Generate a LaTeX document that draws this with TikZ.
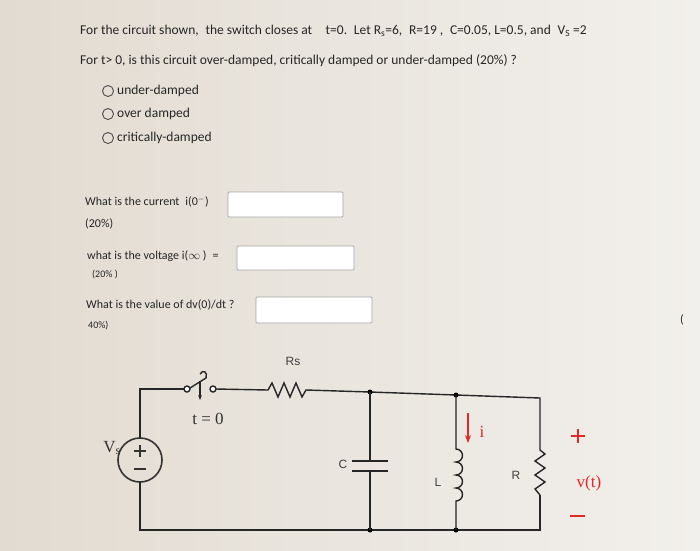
\documentclass[tikz,border=0pt]{standalone}
\usepackage{fontspec}
\setmainfont{Carlito}
\newfontfamily\serfont{Liberation Serif}
\newfontfamily\labfont{Liberation Sans}
\usetikzlibrary{arrows.meta}
\begin{document}
\begin{tikzpicture}[x=1pt,y=-1pt,
  txt/.style={anchor=west,inner sep=0pt,font=\fontsize{13.5}{15}\selectfont,text=black!85},
  sm/.style={anchor=west,inner sep=0pt,font=\fontsize{12}{14}\selectfont,text=black!85},
  ansbox/.style={draw=black!35,fill=white,line width=0.8pt,rounded corners=1pt},
  wire/.style={line width=1.4pt,black!85},
  ser/.style={font=\serfont\fontsize{17}{19}\selectfont,text=black!80},
  lab/.style={font=\labfont\fontsize{12}{14}\selectfont,text=black!75}]
\definecolor{bgl}{RGB}{226,219,209}
\definecolor{bgr}{RGB}{242,240,236}
\definecolor{rd}{RGB}{225,40,40}
\shade[left color=bgl,right color=bgr] (0,0) rectangle (700,550);
\useasboundingbox (0,0) rectangle (700,550);
\node[txt] (q1) at (80,31) {For the circuit shown,\enspace the switch closes at\quad t=0.\enspace Let R$_{\mathrm s}$=6,\enspace R=19 ,\enspace C=0.05, L=0.5, and\enspace V$_{\mathrm S}$ =2};
\node[txt] (q2) at (80,61) {For t> 0, is this circuit over-damped, critically damped or under-damped (20\%) ?};
\foreach \y/\t/\n in {91/under-damped/a,114/over damped/b,138/critically-damped/c}{
  \draw[black!70,line width=0.9pt] (108,\y) circle (5.5);
  \node[txt] (r\n) at (117,\y) {\t};}
\node[sm] (p1) at (85,202) {What is the current\enspace i(0$^{-}$)};
\draw[ansbox] (228,192) rectangle (343,217);
\node[sm] (p1b) at (85,224) {(20\%)};
\node[sm] (p2) at (87,256) {what is the voltage i($\infty$ )\enspace =};
\draw[ansbox] (237,246) rectangle (354,270);
\node[sm,font=\fontsize{10}{12}\selectfont] (p2b) at (92,275) {(20\% )};
\node[sm] (p3) at (86,305) {What is the value of dv(0)/dt ?};
\draw[ansbox] (256,297) rectangle (372,323);
\node[sm,font=\fontsize{10}{12}\selectfont] (p3b) at (88,326) {40\%)};
\node[sm] (par) at (680,320) {(};
% circuit
\coordinate (tl) at (140,389);
\coordinate (bl) at (140,530);
\coordinate (cn) at (370,392);
\coordinate (ln) at (456,395);
\coordinate (rn) at (540,398);
\coordinate (cb) at (370,530);
\coordinate (lb) at (456,530);
\coordinate (rb) at (540,530);
\coordinate (vc) at (140,460);
\coordinate (vt1) at (140,438);
\coordinate (vb1) at (140,482);
\draw[line width=1.6pt,black!80] (vc) circle (22);
\draw[line width=1.8pt,black!80] (134,451) -- (146,451) (140,445) -- (140,457) (134,469) -- (146,469);
\draw[wire] (vt1) -- (tl) -- (184,389);
\draw[wire] (vb1) -- (bl) -- (rb) -- (540,495);
\draw[wire,fill=white] (187,389) circle (3);
\draw[wire,fill=white] (213,389) circle (3);
\draw[wire] (190,388) -- (206,378) .. controls (208,372) and (203,369) .. (200,374);
\draw[wire] (200,381) -- (200,393);
\draw[wire,-{Stealth[length=5pt]}] (200,391) -- (200,400);
\draw[wire] (216,389) -- (268,390) -- (272,383) -- (278,397) -- (284,383) -- (290,397) -- (296,383) -- (302,397) -- (306,390) -- (cn) -- (ln) -- (rn) -- (540,450)
  -- (545,454) -- (535,461) -- (545,468) -- (535,475) -- (545,482) -- (535,489) -- (540,495);
\fill (cn) circle (2.5); \fill (ln) circle (2.5); \fill (cb) circle (2.5); \fill (lb) circle (2.5);
\draw[wire] (cn) -- (370,461); \draw[wire] (370,471) -- (cb);
\draw[wire] (352,461) -- (388,461); \draw[wire] (352,471) -- (388,471);
\draw[wire] (ln) -- (456,449)
  arc[start angle=-90,end angle=90,radius=6.5]
  arc[start angle=-90,end angle=90,radius=6.5]
  arc[start angle=-90,end angle=90,radius=6.5]
  arc[start angle=-90,end angle=90,radius=6.5] -- (lb);
\draw[rd,line width=1.6pt,-{Stealth[length=8pt]}] (468,413) -- (468,443);
\node[ser,text=rd] (il) at (482,432) {i};
\node[lab] (rsl) at (293,361) {Rs};
\node[ser] (t0) at (208,419) {t = 0};
\node[ser] (vsl) at (112,448) {V\textsubscript{s}};
\node[lab] (cl) at (343,464) {C};
\node[lab] (ll) at (438,482) {L};
\node[lab] (rl) at (516,475) {R};
\node[ser,text=rd] (vt) at (589,483) {v(t)};
\draw[rd,line width=2.4pt] (571,436) -- (585,436) (578,429) -- (578,443);
\draw[rd,line width=2.4pt] (570,516) -- (585,516);
\end{tikzpicture}
\end{document}
